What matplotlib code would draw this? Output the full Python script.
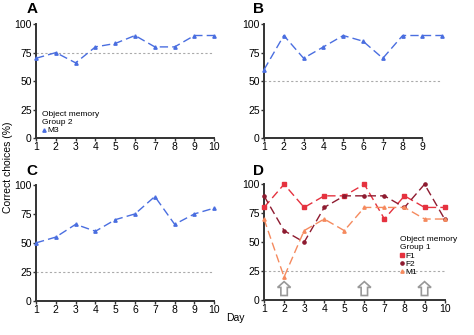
import matplotlib.pyplot as plt
from matplotlib.lines import Line2D
from matplotlib.patches import FancyArrow

plt.rcParams['font.family'] = ['Liberation Sans', 'DejaVu Sans']

days = [1, 2, 3, 4, 5, 6, 7, 8, 9, 10]

# panel A - group 2, M3
a_m3 = [70, 75, 66, 80, 83, 90, 80, 80, 90, 90]
# panel B
b_vals = [60, 90, 70, 80, 90, 85, 70, 90, 90, 90]
# panel C
c_vals = [50, 55, 66, 60, 70, 75, 90, 66, 75, 80]
# panel D - group 1
d_f1 = [80, 100, 80, 90, 90, 100, 70, 90, 80, 80]
d_f2 = [90, 60, 50, 80, 90, 90, 90, 80, 100, 70]
d_m1 = [70, 20, 60, 70, 60, 80, 80, 80, 70, 70]

chance = {'A': 75, 'B': 50, 'C': 25, 'D': 25}
arrow_days = [2, 6, 9]
yticks = [0, 25, 50, 75, 100]

blue = '#4a6ee0'
c_f1 = '#e5323f'
c_f2 = '#8e1b30'
c_m1 = '#f58a5e'
spine_col = '#333333'

fig = plt.figure(figsize=(4.74, 3.35), dpi=100)
axA = fig.add_axes([0.076, 0.588, 0.376, 0.340])
axB = fig.add_axes([0.557, 0.588, 0.376, 0.340])
axC = fig.add_axes([0.076, 0.102, 0.376, 0.346])
axD = fig.add_axes([0.557, 0.104, 0.381, 0.346])


def style(ax, key, xmax_tick=10):
    ax.set_xlim(1, 10)
    ax.set_ylim(0, 100)
    ax.set_yticks(yticks)
    ax.set_xticks(range(1, xmax_tick + 1))
    for s in ['top', 'right']:
        ax.spines[s].set_visible(False)
    for s in ['left', 'bottom']:
        ax.spines[s].set_linewidth(1.4)
        ax.spines[s].set_color(spine_col)
    ax.spines['bottom'].set_bounds(1, xmax_tick)
    ax.tick_params(labelsize=7.5, length=2.5, width=1, color=spine_col, pad=0.5)
    ax.plot([1, 10], [chance[key], chance[key]], ls=(0, (2, 2)), color='#aaaaaa', lw=0.8)


def series(ax, y, color, marker, ms=2.4):
    ax.plot(days, y, color=color, ls=(0, (6, 3)), lw=1.0, marker=marker,
            ms=ms, clip_on=False, zorder=3)


style(axA, 'A')
series(axA, a_m3, blue, '^')
style(axB, 'B', 9)
series(axB, b_vals, blue, '^')
style(axC, 'C')
series(axC, c_vals, blue, '^')
style(axD, 'D')
series(axD, d_f1, c_f1, 's', 2.2)
series(axD, d_f2, c_f2, 'o', 2.3)
series(axD, d_m1, c_m1, '^', 2.4)

for d in arrow_days:
    axD.add_patch(FancyArrow(d, 4, 0, 12, width=0.32, head_width=0.65,
                             head_length=5, length_includes_head=True,
                             facecolor='white', edgecolor='#999999', lw=1.2,
                             zorder=4))

hA = [Line2D([], [], color=blue, marker='^', ls='none', ms=2.4)]
legA = axA.legend(hA, ['M3'], title='Object memory\nGroup 2', loc='lower left',
                  bbox_to_anchor=(0.0, -0.02), frameon=False, fontsize=6,
                  title_fontsize=6, handlelength=0.4, handletextpad=0.3,
                  borderpad=0.2, labelspacing=0.1)
legA._legend_box.align = 'left'

hD = [Line2D([], [], color=c_f1, marker='s', ls='none', ms=2.2),
      Line2D([], [], color=c_f2, marker='o', ls='none', ms=2.3),
      Line2D([], [], color=c_m1, marker='^', ls='none', ms=2.4)]
legD = axD.legend(hD, ['F1', 'F2', 'M1'], title='Object memory\nGroup 1',
                  loc='upper left', bbox_to_anchor=(0.72, 0.60), frameon=False,
                  fontsize=6, title_fontsize=6, handlelength=0.4,
                  handletextpad=0.3, borderpad=0.2, labelspacing=0.05)
legD._legend_box.align = 'left'

for lab, x, y in [('A', 0.067, 0.972), ('B', 0.546, 0.972),
                  ('C', 0.067, 0.49), ('D', 0.546, 0.49)]:
    fig.text(x, y, lab, fontsize=11, fontweight='bold', ha='center', va='center')

fig.text(0.017, 0.5, 'Correct choices (%)', rotation=90, fontsize=7.5,
         ha='center', va='center')
fig.text(0.496, 0.05, 'Day', fontsize=7.5, ha='center', va='center')

plt.savefig('out.png', dpi=100)
